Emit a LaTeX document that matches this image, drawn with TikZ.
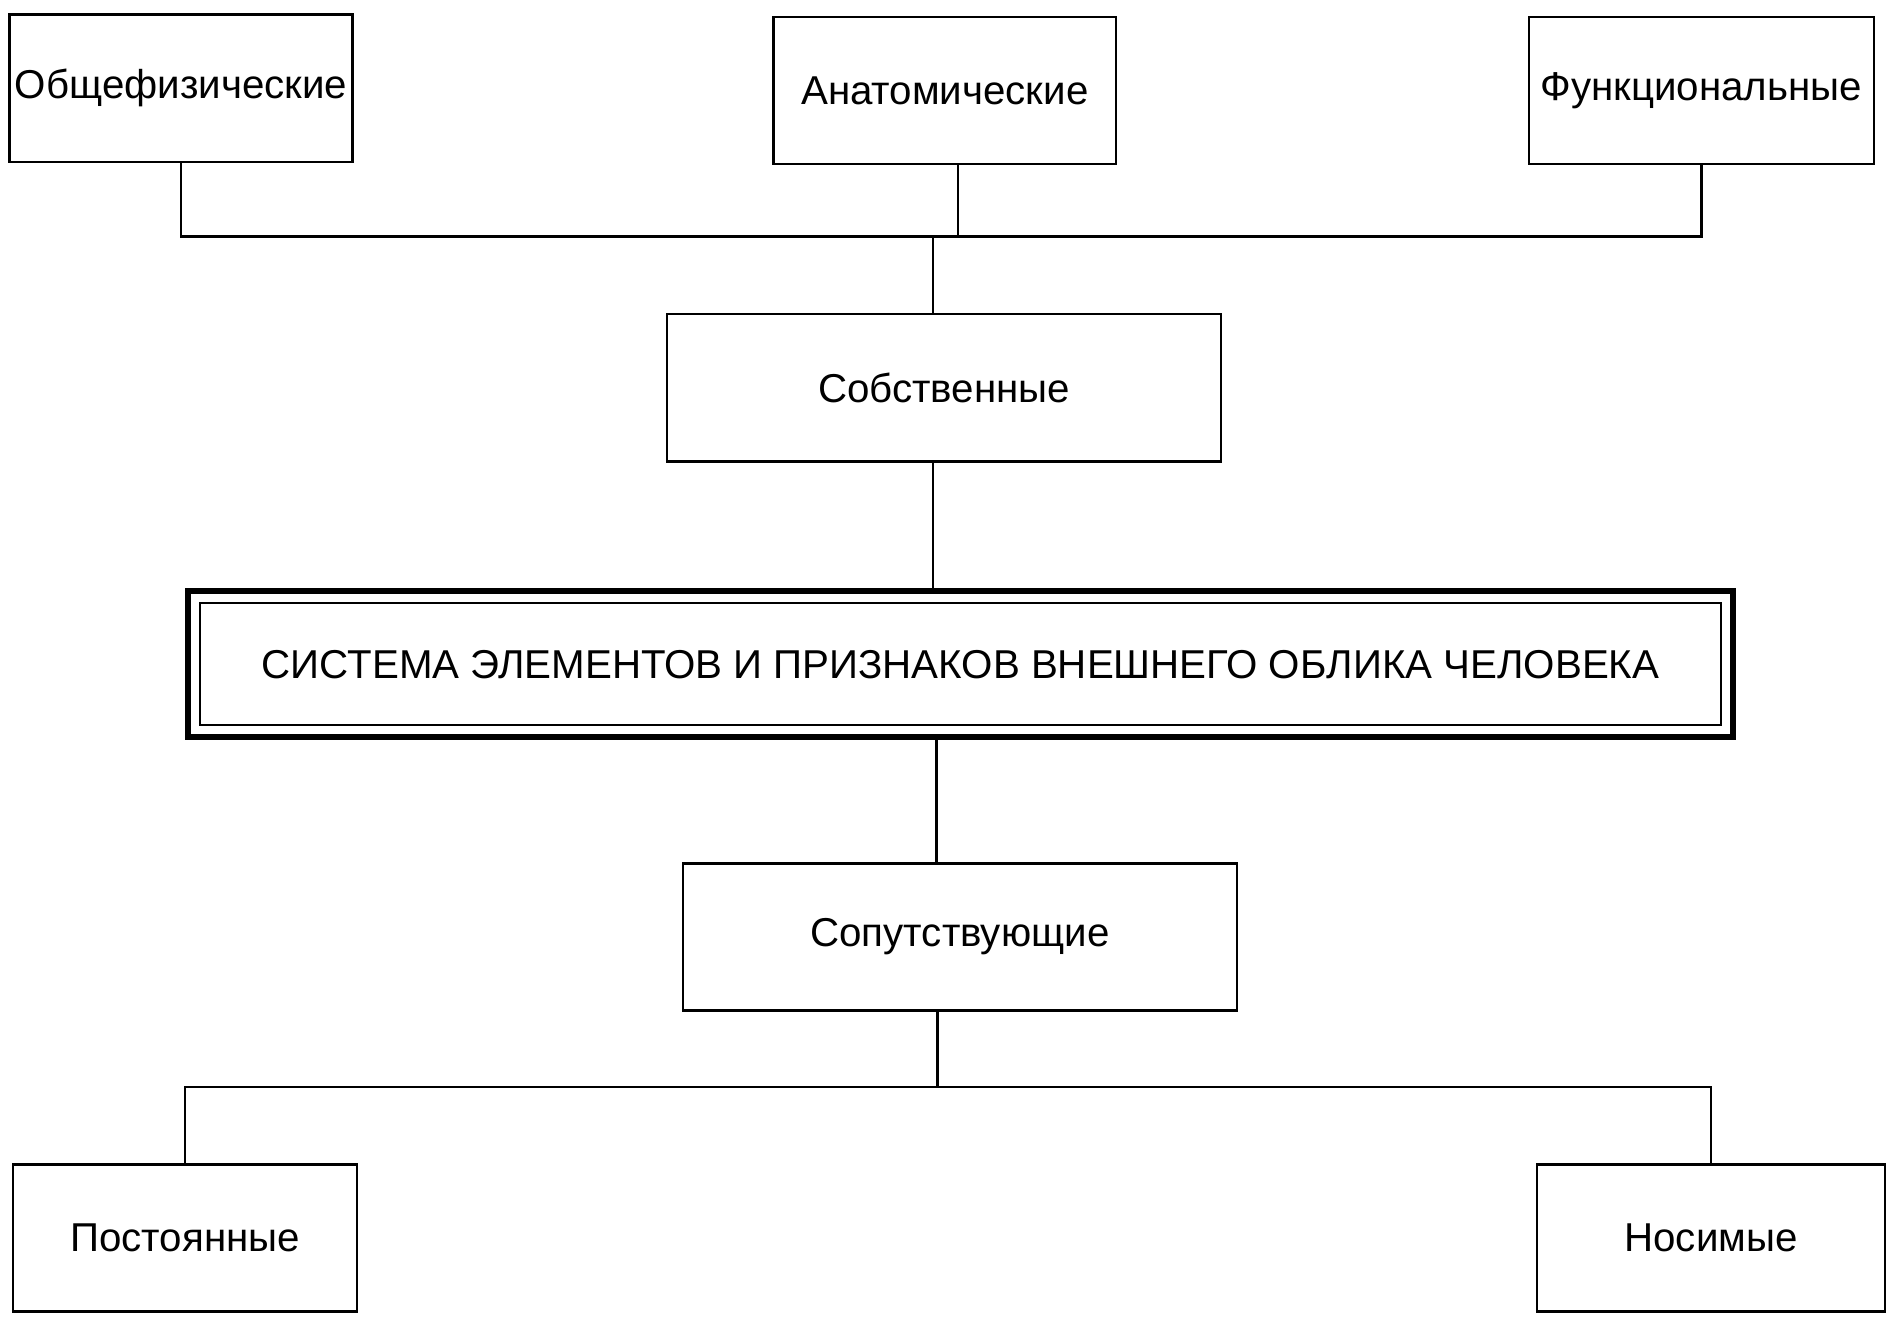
\documentclass[tikz,border=0pt]{standalone}
\usepackage{fontspec}
\setmainfont{Liberation Sans}
\usetikzlibrary{positioning, calc}

\begin{document}
\begin{tikzpicture}[
    box/.style={rectangle, draw=black, line width=1.1pt, minimum width=#1, minimum height=2.44cm, font=\fontsize{19}{22}\selectfont, inner sep=0pt},
    link/.style={line width=1.1pt}
]
\useasboundingbox (0,0) rectangle (31.36,-21.98);

% Upper group
\node[box=5.68cm] (gen) at (3.0,-1.46) {Общефизические};
\node[box=5.68cm] (anat) at (15.66,-1.5) {Анатомические};
\node[box=5.72cm] (func) at (28.2,-1.5) {Функциональные};
\node[box=9.18cm] (own) at (15.65,-6.43) {Собственные};

% Central box
\node[box=25.6cm, minimum height=2.42cm, line width=2.8pt] (sys) at (15.92,-11.01) {};
\node[box=25.2cm, minimum height=2.02cm, line width=1pt] (sysin) at (15.92,-11.01) {СИСТЕМА ЭЛЕМЕНТОВ И ПРИЗНАКОВ ВНЕШНЕГО ОБЛИКА ЧЕЛОВЕКА};

% Lower group
\node[box=9.18cm] (acc) at (15.91,-15.53) {Сопутствующие};
\node[box=5.7cm] (perm) at (3.07,-20.52) {Постоянные};
\node[box=5.76cm] (worn) at (28.36,-20.52) {Носимые};

% Junctions
\coordinate (topbus) at (15.46,-3.92);
\coordinate (lowbus) at (15.54,-18.02);

% Links
\draw[link] (gen.south) |- (topbus) -| (func.south);
\draw[link] (anat.south -| 15.88,0) -- (15.88,-3.92);
\draw[link] (topbus) -- (own.north -| topbus);
\draw[link] (own.south -| topbus) -- (sys.north -| topbus);
\draw[link] (sys.south -| 15.52,0) -- (acc.north -| 15.52,0);
\draw[link] (acc.south -| lowbus) -- (lowbus);
\draw[link] (perm.north) |- (lowbus) -| (worn.north);

\end{tikzpicture}
\end{document}
